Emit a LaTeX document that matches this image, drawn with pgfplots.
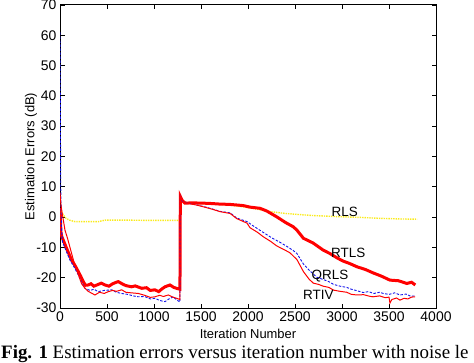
\documentclass[border=0pt]{standalone}
\usepackage{fontspec}
\setmainfont{Liberation Sans}
\newfontfamily\seriffont{Liberation Serif}
\usepackage{pgfplots}
\pgfplotsset{compat=1.18}
\definecolor{myyellow}{RGB}{250,235,30}
\definecolor{myred}{RGB}{255,0,0}
\definecolor{myblue}{RGB}{20,20,235}
\begin{document}
\begin{tikzpicture}[x=1bp,y=1bp]
\path[use as bounding box] (0,0) rectangle (474,362);
\begin{axis}[
  at={(60bp,54bp)}, anchor=south west,
  scale only axis, width=376bp, height=303bp,
  xmin=0, xmax=4000, ymin=-30, ymax=70,
  xtick={0,500,...,4000}, ytick={-30,-20,...,70},
  tick align=inside,
  major tick length=4.5bp,
  /pgf/number format/assume math mode=true,
  /pgf/number format/set thousands separator={},
  scaled ticks=false,
  tick label style={font=\fontsize{14}{15}\selectfont},
  xlabel={Iteration Number}, ylabel={Estimation Errors (dB)},
  label style={font=\fontsize{13}{14}\selectfont},
  xlabel style={at={(axis description cs:0.5,-0.085)}, anchor=center, inner sep=0.5bp},
  ylabel style={at={(axis description cs:-0.077,0.5)}, anchor=center},
  axis line style={line width=1bp},
  every tick/.style={line width=0.8bp, black},
  clip=true,
]
% RLS
\addplot[myyellow, line width=1.4bp, densely dotted] coordinates {
(0,2.5) (30,1) (60,-0.3) (100,-1) (160,-1.5) (300,-1.5) (408,-1.5) (479,-1.0)
(700,-1.0) (1000,-1.1) (1275,-1.1) (1280,5.5) (1350,4.8) (1500,4.5) (1700,4.2)
(1800,4.0) (1950,3.4) (2100,2.6) (2234,1.8) (2400,1.2) (2518,0.9) (2700,0.5)
(3000,0.1) (3190,-0.1) (3400,-0.4) (3600,-0.6) (3800,-0.7)
};
% RTLS
\addplot[myred, line width=3bp] coordinates {
(0,3) (10,-5) (20,-6.5) (40,-8) (70,-10.3) (100,-12.5) (124,-14.2) (160,-16)
(195,-18) (220,-19.5) (248,-21.3) (270,-22.5) (301,-22.4) (330,-22) (360,-22.8)
(400,-22.3) (440,-21.8) (479,-22.4) (520,-22.8) (560,-22) (600,-21.5) (620,-21.3)
(660,-22) (700,-22.6) (762,-23) (800,-22.7) (869,-23.5) (920,-23.3) (960,-24.2)
(1010,-24) (1050,-24.6) (1080,-23.8) (1117,-23) (1170,-22.4) (1210,-23.2)
(1250,-23.6) (1276,-23.8) (1280,6.8) (1300,5.5) (1330,4.6) (1400,4.7) (1525,4.6)
(1600,4.5) (1700,4.3) (1800,4.2) (1880,4.0) (1950,3.8) (2020,3.3) (2128,2.9)
(2200,2.0) (2305,0.1) (2400,-1.8) (2482,-3.2) (2520,-4.3) (2590,-7) (2690,-8.5)
(2800,-10.9) (2870,-12) (2950,-13.5) (3010,-14.5) (3080,-15.3) (3160,-16.4)
(3250,-17.3) (3330,-18.4) (3420,-19.5) (3510,-20.8) (3600,-21) (3690,-21.9)
(3740,-21.5) (3780,-22.4)
};
% QRLS
\addplot[myblue, line width=0.9bp, dash pattern=on 2.5bp off 1.5bp] coordinates {
(0,61) (8,10) (15,-3) (25,-8) (50,-10) (106,-14.2) (150,-16.5) (195,-19.1)
(230,-21.5) (266,-23.5) (320,-24.2) (360,-23.8) (408,-24.6) (470,-24.2) (550,-24)
(600,-24.8) (656,-25.2) (720,-25.5) (780,-26) (833,-26.3) (900,-26.2) (960,-27)
(1010,-26.8) (1060,-27.5) (1117,-27.9) (1160,-27) (1205,-26.3) (1240,-27.3)
(1275,-28) (1280,6.8) (1300,5.4) (1350,4.7) (1450,4.0) (1525,3.5) (1620,2.7)
(1702,1.9) (1810,1.4) (1880,-0.3) (1990,-1.5) (2050,-2.8) (2160,-5) (2250,-6.8)
(2340,-8.3) (2420,-9.8) (2480,-11) (2520,-12) (2590,-15.5) (2650,-17.5)
(2730,-19.8) (2800,-20.6) (2860,-21.3) (2910,-22.2) (2980,-22.8) (3050,-23.2)
(3100,-23.8) (3160,-24.3) (3225,-24.9) (3280,-24.6) (3340,-25.2) (3400,-24.8)
(3440,-25.2) (3500,-25.5) (3560,-25.0) (3617,-25.7) (3680,-25.4) (3730,-26.1)
(3777,-26.0)
};
% RTIV
\addplot[myred, line width=1bp] coordinates {
(0,8) (10,4) (30,0) (53,-4.3) (80,-7) (106,-10) (150,-15) (195,-19) (230,-22)
(266,-23.5) (300,-24.5) (372,-25.7) (420,-24.8) (470,-25.2) (514,-24.6)
(560,-24.2) (600,-24.5) (656,-24) (700,-24.8) (760,-25) (833,-25.2) (900,-25.8)
(960,-26.5) (1010,-26.3) (1060,-25.8) (1100,-26.2) (1152,-25.7) (1200,-26.4)
(1241,-26.8) (1275,-27.2) (1280,6.8) (1300,5.6) (1350,4.6) (1450,4.0) (1525,3.4)
(1620,2.6) (1702,1.8) (1810,1.2) (1880,-0.5) (1990,-2.0) (2021,-3.5) (2100,-5)
(2163,-6.5) (2240,-8) (2305,-9.5) (2400,-11) (2447,-11.8) (2520,-14) (2590,-18)
(2650,-20.5) (2695,-21.8) (2750,-22.2) (2800,-22.8) (2860,-23.2) (2910,-24.1)
(2980,-24.5) (3050,-24.8) (3100,-25.5) (3160,-25.7) (3230,-25.6) (3290,-26.1)
(3330,-26.3) (3400,-26.0) (3460,-26.6) (3500,-26.4) (3510,-28.4) (3530,-27.2)
(3580,-26.7) (3617,-27.4) (3660,-26.8) (3700,-27) (3740,-26.4) (3777,-26.3)
};
\node[font=\fontsize{13.5}{14}\selectfont] at (axis cs:3030,1.8) {RLS};
\node[font=\fontsize{13.5}{14}\selectfont] at (axis cs:3067,-11.7) {RTLS};
\node[font=\fontsize{13.5}{14}\selectfont] at (axis cs:2872,-19.3) {QRLS};
\node[font=\fontsize{13.5}{14}\selectfont] at (axis cs:2748,-25.7) {RTIV};
\end{axis}
\node[anchor=base west, inner sep=0pt, font=\seriffont\fontsize{19}{20}\selectfont] at (1,3.6) {\textbf{Fig. 1} Estimation errors versus iteration number with noise le};
\end{tikzpicture}
\end{document}
